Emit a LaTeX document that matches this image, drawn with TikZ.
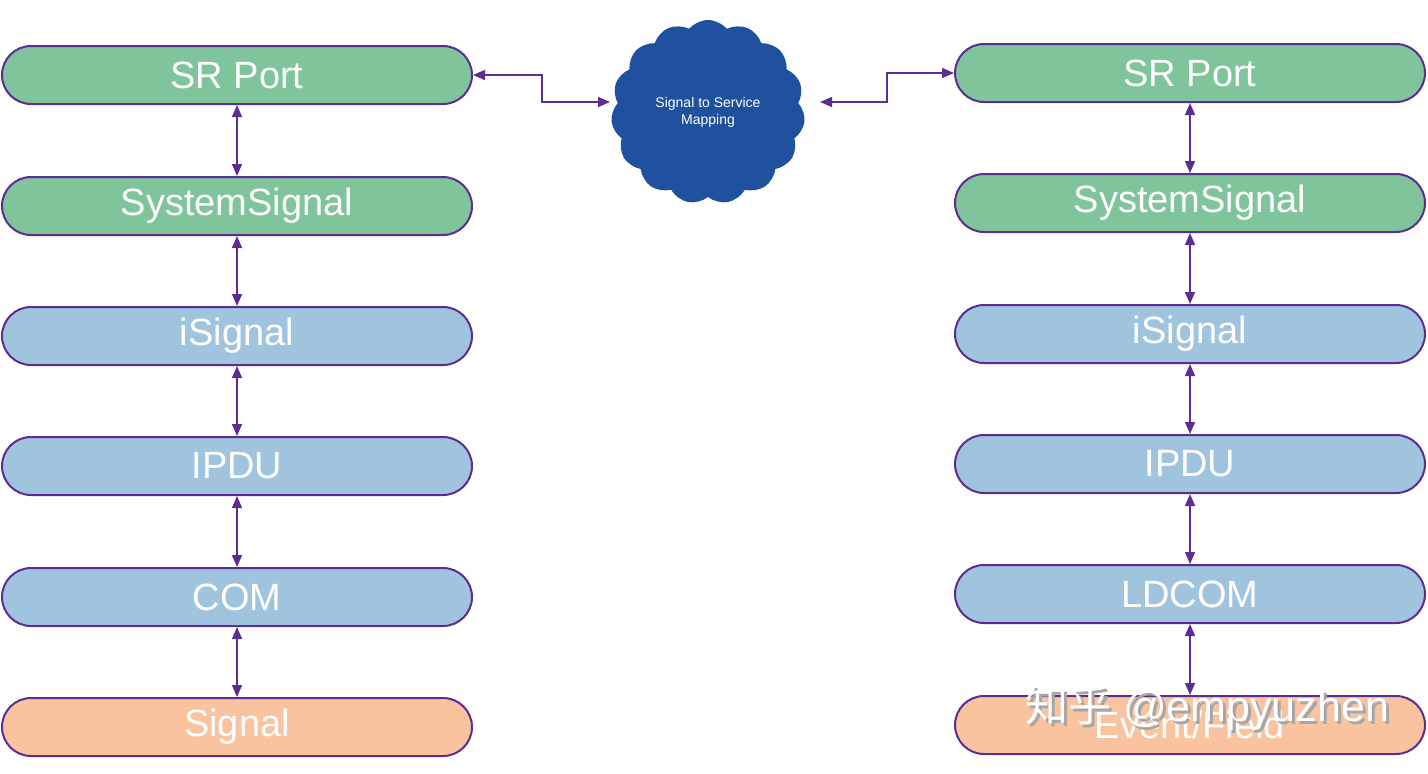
\documentclass[tikz,border=0pt]{standalone}
\usepackage{fontspec}
\setmainfont{Liberation Sans}
\newfontfamily\cjk{Noto Sans CJK SC}
\usetikzlibrary{shapes.symbols,arrows.meta}
\definecolor{gr}{HTML}{7FC49B}
\definecolor{bl}{HTML}{A0C4DE}
\definecolor{or}{HTML}{F8C39E}
\definecolor{pu}{HTML}{5B2C91}
\definecolor{cl}{HTML}{1F519E}
\begin{document}
\begin{tikzpicture}[x=0.5pt,y=-0.5pt,
 box/.style={rectangle,rounded corners=14.5pt,draw=pu,line width=1pt,minimum width=235pt,minimum height=29pt,text=white,font=\fontsize{19}{21}\selectfont,inner sep=0pt},
 g/.style={box,fill=gr},b/.style={box,fill=bl},o/.style={box,fill=or},
 con/.style={pu,line width=0.7pt,{Triangle[width=5pt,length=6pt]}-{Triangle[width=5pt,length=6pt]}}]
\useasboundingbox (0,0) rectangle (1428,773);
\node[g] (l1) at (237,75) {SR Port};
\node[g] (l2) at (237,206) {SystemSignal};
\node[b] (l3) at (237,336) {iSignal};
\node[b] (l4) at (237,466) {IPDU};
\node[b] (l5) at (237,597) {COM};
\node[o] (l6) at (237,727) {Signal};
\node[g] (r1) at (1190,73) {SR Port};
\node[g] (r2) at (1190,203) {SystemSignal};
\node[b] (r3) at (1190,334) {iSignal};
\node[b] (r4) at (1190,464) {IPDU};
\node[b] (r5) at (1190,594) {LDCOM};
\node[o] (r6) at (1190,725) {Event/Field};
\foreach \a/\c in {l1/l2,l2/l3,l3/l4,l4/l5,l5/l6,r1/r2,r2/r3,r3/r4,r4/r5,r5/r6}
 \draw[con] (\a) -- (\c);
\node[cloud,cloud puffs=15,cloud puff arc=100,aspect=1,fill=cl,minimum width=97pt,minimum height=92pt,text=white,align=center,font=\fontsize{7}{8.5}\selectfont,inner sep=0pt] (c) at (708,112) {Signal to Service\\Mapping};
\coordinate (cl) at (610,102);
\coordinate (cr) at (820,102);
\draw[con] (l1.east) -- (542,75) -- (542,102) -- (cl);
\draw[con] (cr) -- (887,102) -- (887,73) -- (r1.west);
\node[text=gray!70,font=\fontsize{21.5}{23}\selectfont] at (1210,711) {{\cjk 知乎} @empyuzhen};
\node[text=white,font=\fontsize{21.5}{23}\selectfont] at (1207,708) {{\cjk 知乎} @empyuzhen};
\end{tikzpicture}
\end{document}
